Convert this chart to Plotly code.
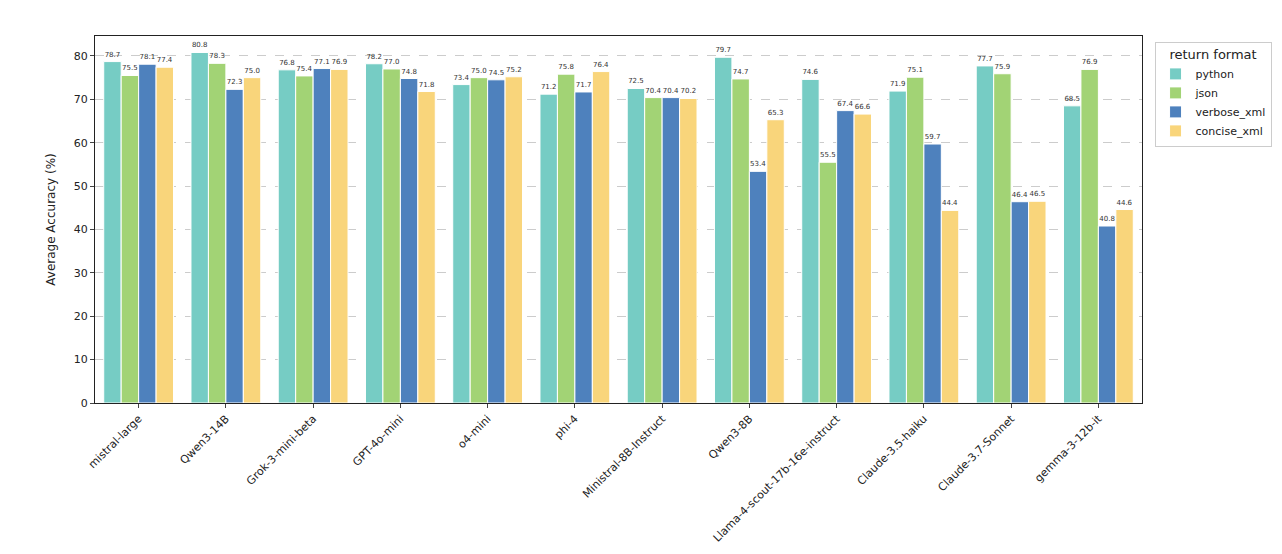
import plotly.graph_objects as go

models = ["mistral-large","Qwen3-14B","Grok-3-mini-beta","GPT-4o-mini","o4-mini","phi-4",
          "Ministral-8B-Instruct","Qwen3-8B","Llama-4-scout-17b-16e-instruct","Claude-3.5-haiku",
          "Claude-3.7-Sonnet","gemma-3-12b-it"]
python = [78.7,80.8,76.8,78.2,73.4,71.2,72.5,79.7,74.6,71.9,77.7,68.5]
json_ = [75.5,78.3,75.4,77.0,75.0,75.8,70.4,74.7,55.5,75.1,75.9,76.9]
verbose_xml = [78.1,72.3,77.1,74.8,74.5,71.7,70.4,53.4,67.4,59.7,46.4,40.8]
concise_xml = [77.4,75.0,76.9,71.8,75.2,76.4,70.2,65.3,66.6,44.4,46.5,44.6]

series = [("python", python, "#76CCC4"), ("json", json_, "#A2D375"),
          ("verbose_xml", verbose_xml, "#4E81BD"), ("concise_xml", concise_xml, "#F9D57B")]

fig = go.Figure()
for name, vals, col in series:
    fig.add_trace(go.Bar(x=models, y=vals, name=name, marker=dict(color=col, line=dict(color="white", width=1)),
                         text=[f"{v:.1f}" for v in vals], textposition="outside",
                         textfont=dict(size=7, color="#333"), cliponaxis=False))

fig.update_layout(
    width=1282, height=554, barmode="group", bargap=0.2, bargroupgap=0,
    plot_bgcolor="white", paper_bgcolor="white",
    font=dict(family="DejaVu Sans", size=11, color="#222"),
    margin=dict(l=87, r=148, t=28, b=159),
    uniformtext=dict(minsize=7, mode="show"),
    legend=dict(title=dict(text="return format", side="top center"), x=1.012, y=0.985, xanchor="left", yanchor="top",
                bordercolor="#ccc", borderwidth=1, font=dict(size=11)),
    xaxis=dict(tickangle=-45, showline=True, linecolor="#222", mirror=True, ticks="outside", ticklen=4),
    yaxis=dict(title=dict(text="Average Accuracy (%)", font=dict(size=12)), range=[0, 84.6], dtick=10,
               showgrid=True, gridcolor="#cccccc", griddash="dash", showline=True, linecolor="#222", mirror=True,
               ticks="outside", ticklen=4, zeroline=False),
)
fig.write_html("out.html")
